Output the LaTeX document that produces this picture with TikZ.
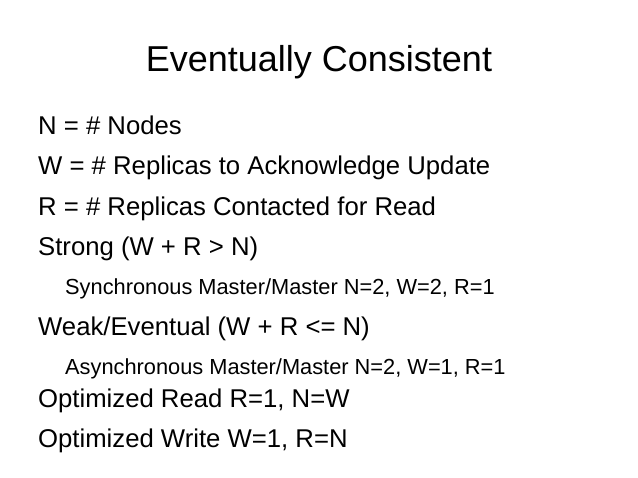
\documentclass[tikz,border=0pt]{standalone}
\usepackage{fontspec}
\setmainfont{Liberation Sans}
\begin{document}
\begin{tikzpicture}[x=1pt,y=-1pt,
  body/.style={anchor=base west,inner sep=0pt,font=\fontsize{25.7}{28}\selectfont},
  sub/.style={anchor=base west,inner sep=0pt,font=\fontsize{21.8}{24}\selectfont}]
\useasboundingbox[fill=white] (0,0) rectangle (638,478);
\node[anchor=base,inner sep=0pt,font=\fontsize{36}{40}\selectfont] (t) at (319,72) {Eventually Consistent};
\node[body] (l1) at (38,135) {N = \# Nodes};
\node[body] (l2) at (38,175) {W = \# Replicas to Acknowledge Update};
\node[body] (l3) at (38,216) {R = \# Replicas Contacted for Read};
\node[body] (l4) at (38,256) {Strong (W + R > N)};
\node[sub] (l5) at (65,295) {Synchronous Master/Master N=2, W=2, R=1};
\node[body] (l6) at (38,336) {Weak/Eventual (W + R <= N)};
\node[sub] (l7) at (65,375) {Asynchronous Master/Master N=2, W=1, R=1};
\node[body] (l8) at (38,408) {Optimized Read R=1, N=W};
\node[body] (l9) at (38,448) {Optimized Write W=1, R=N};
\end{tikzpicture}
\end{document}
